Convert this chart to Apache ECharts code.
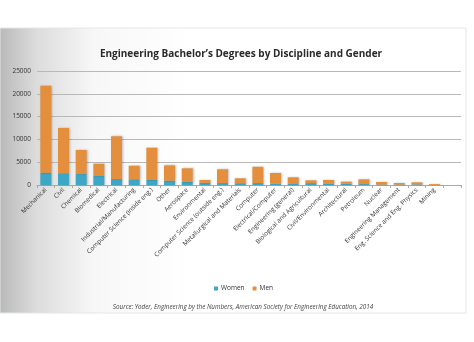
<!DOCTYPE html>
<html>
<head>
<meta charset="utf-8">
<script src="https://cdn.jsdelivr.net/npm/echarts@6/dist/echarts.min.js"></script>
<style>
  html, body { margin: 0; padding: 0; background: #ffffff; }
  #chart { width: 474px; height: 342px; }
</style>
</head>
<body>
<div id="chart"></div>
<script>
// Engineering bachelor's degrees by discipline, split into women and men
const disciplines = [
  'Mechanical', 'Civil', 'Chemical', 'Biomedical', 'Electrical',
  'Industrial/Manufacturing', 'Computer Science (inside eng.)', 'Other',
  'Aerospace', 'Environmental', 'Computer Science (outside eng.)',
  'Metallurgical and Materials', 'Computer', 'Electrical/Computer',
  'Engineering (general)', 'Biological and Agricultural', 'Civil/Environmental',
  'Architectural', 'Petroleum', 'Nuclear', 'Engineering Management',
  'Eng. Science and Eng. Physics', 'Mining', ''
];
const women = [2700, 2560, 2400, 1970, 1300, 1250, 1100, 950, 700, 480, 420,
  380, 420, 330, 330, 400, 300, 280, 200, 100, 100, 130, 40, null];
const totals = [21750, 12500, 7680, 4670, 10680, 4230, 8180, 4300, 3660, 1100,
  3440, 1460, 4000, 2630, 1680, 1020, 1100, 730, 1240, 660, 440, 580, 220, null];
const men = totals.map((t, i) => (t == null ? null : t - women[i]));
const yTicks = [0, 5000, 10000, 15000, 20000, 25000];

const chart = echarts.init(document.getElementById('chart'), null, { renderer: 'canvas' });

const barStyle = (color) => ({
  color: color,
  shadowColor: 'rgba(0,0,0,0.25)',
  shadowBlur: 2,
  shadowOffsetX: 1,
  shadowOffsetY: 0
});

chart.setOption({
  animation: false,
  backgroundColor: '#ffffff',
  graphic: [
    {
      type: 'rect',
      z: -10,
      silent: true,
      shape: { x: 0, y: 28, width: 466, height: 285 },
      style: {
        fill: new echarts.graphic.LinearGradient(0, 0, 1, 0, [
          { offset: 0, color: '#b9b9b9' },
          { offset: 0.08, color: '#dcdcdc' },
          { offset: 0.2, color: '#f7f7f7' },
          { offset: 0.4, color: '#ffffff' },
          { offset: 1, color: '#ffffff' }
        ]),
        stroke: '#e2e8ea',
        lineWidth: 1
      }
    }
  ],
  title: [
    {
      text: 'Engineering Bachelor\u2019s Degrees by Discipline and Gender',
      left: 236,
      top: 44,
      textAlign: 'center',
      textStyle: {
        fontFamily: 'Open Sans',
        fontSize: 10,
        fontWeight: 'bold',
        color: '#2a2a2a'
      }
    },
    {
      text: 'Source: Yoder, Engineering by the Numbers, American Society for Engineering Education, 2014',
      left: 238,
      top: 299,
      textAlign: 'center',
      textStyle: {
        fontFamily: 'Open Sans',
        fontSize: 6.3,
        fontStyle: 'italic',
        fontWeight: 'normal',
        color: '#444444'
      }
    }
  ],
  legend: {
    data: ['Women', 'Men'],
    left: 209,
    top: 280,
    itemWidth: 4,
    itemHeight: 4,
    itemGap: 8,
    icon: 'rect',
    textStyle: { fontFamily: 'Open Sans', fontSize: 6.5, color: '#333333', padding: [0, 0, 0, -2] }
  },
  grid: { left: 37, right: 13, top: 71, bottom: 157 },
  xAxis: {
    type: 'category',
    data: disciplines,
    axisLine: { lineStyle: { color: '#a9a9a9', width: 1 } },
    axisTick: { show: true, interval: 0, length: 3, lineStyle: { color: '#a9a9a9' } },
    axisLabel: {
      interval: 0,
      rotate: 45,
      margin: 4,
      fontFamily: 'Open Sans',
      fontSize: 6.3,
      color: '#333333'
    }
  },
  yAxis: {
    type: 'value',
    min: yTicks[0],
    max: yTicks[yTicks.length - 1],
    interval: 5000,
    axisLine: { show: false },
    axisTick: { show: false },
    splitLine: { lineStyle: { color: '#b8b8b8', width: 1 } },
    axisLabel: {
      margin: 6,
      fontFamily: 'Open Sans',
      fontSize: 6.5,
      color: '#333333',
      formatter: (v) => String(v)
    }
  },
  series: [
    {
      name: 'Women',
      type: 'bar',
      stack: 'degrees',
      data: women,
      barCategoryGap: '38%',
      itemStyle: barStyle('#3fa7c6')
    },
    {
      name: 'Men',
      type: 'bar',
      stack: 'degrees',
      data: men,
      barCategoryGap: '38%',
      itemStyle: barStyle('#e38f3d')
    }
  ]
});
</script>
</body>
</html>
